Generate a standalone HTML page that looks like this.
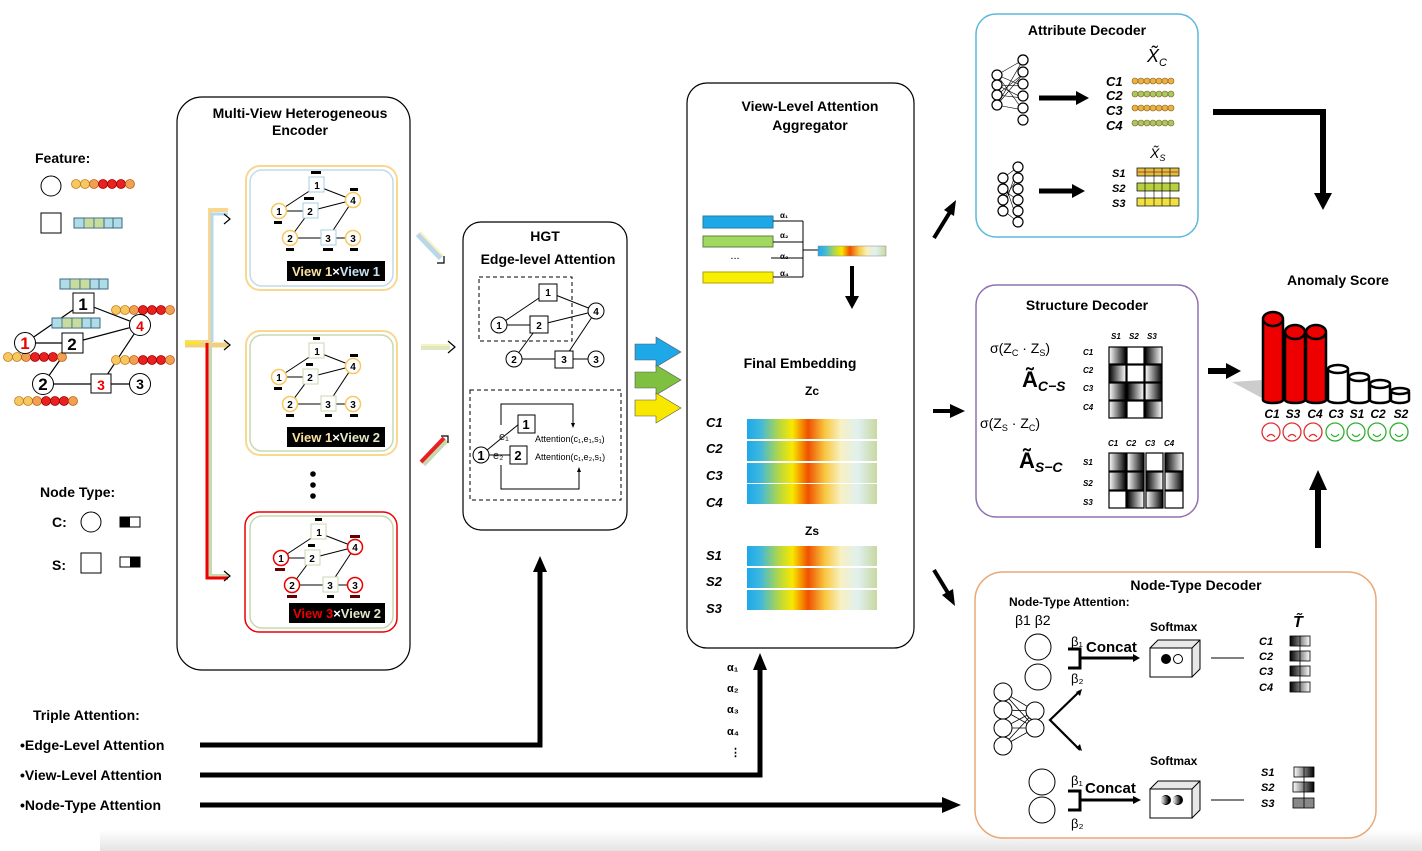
<!DOCTYPE html>
<html><head><meta charset="utf-8"><style>
html,body{margin:0;padding:0;background:#fff}
svg{display:block}
text{font-family:"Liberation Sans",sans-serif}
.b{font-weight:bold}
.t{font-size:14px;font-weight:bold}
.i{font-style:italic;font-weight:bold}
</style></head><body>
<svg width="1422" height="851" viewBox="0 0 1422 851" xmlns="http://www.w3.org/2000/svg">
<defs>
<linearGradient id="emb" x1="0" x2="1" y1="0" y2="0">
<stop offset="0" stop-color="#1ea8e8"/><stop offset="0.1" stop-color="#3cb8e0"/><stop offset="0.25" stop-color="#b8d840"/><stop offset="0.35" stop-color="#f8e800"/><stop offset="0.47" stop-color="#f05000"/><stop offset="0.6" stop-color="#f8c840"/><stop offset="0.72" stop-color="#f8f0c0"/><stop offset="0.85" stop-color="#e0f0f0"/><stop offset="1" stop-color="#c8d8a0"/>
</linearGradient>
<linearGradient id="bw" x1="0" x2="1"><stop offset="0" stop-color="#000"/><stop offset="1" stop-color="#fff"/></linearGradient>
<linearGradient id="wb" x1="0" x2="1"><stop offset="0" stop-color="#fff"/><stop offset="1" stop-color="#000"/></linearGradient>
<linearGradient id="shade" x1="0" x2="0" y1="0" y2="1"><stop offset="0" stop-color="#fff"/><stop offset="1" stop-color="#e4e4e4"/></linearGradient>
<marker id="ah" viewBox="0 0 10 10" refX="9" refY="5" markerWidth="4" markerHeight="4" orient="auto"><path d="M0,0L10,5L0,10z" fill="#000"/></marker>
<marker id="ahs" viewBox="0 0 10 10" refX="9" refY="5" markerWidth="7" markerHeight="7" orient="auto"><path d="M0,0L10,5L0,10z" fill="#000"/></marker>
<g id="dots7">
<circle cx="0" cy="0" r="4.5" fill="#f8c860" stroke="#c08020" stroke-width="0.8"/><circle cx="9" cy="0" r="4.5" fill="#f8c860" stroke="#c08020" stroke-width="0.8"/><circle cx="18" cy="0" r="4.5" fill="#f0a050" stroke="#c06020" stroke-width="0.8"/><circle cx="27" cy="0" r="4.5" fill="#e82020" stroke="#a00000" stroke-width="0.8"/><circle cx="36" cy="0" r="4.5" fill="#e82020" stroke="#a00000" stroke-width="0.8"/><circle cx="45" cy="0" r="4.5" fill="#e82020" stroke="#a00000" stroke-width="0.8"/><circle cx="54" cy="0" r="4.5" fill="#f0a050" stroke="#c06020" stroke-width="0.8"/>
</g>
<g id="bars5">
<rect x="0" y="0" width="48" height="10" fill="#b0dce8" stroke="#3a6a80" stroke-width="1"/><rect x="10" y="0" width="10" height="10" fill="#c8dca0" stroke="#3a6a80" stroke-width="0.8"/><rect x="20" y="0" width="10" height="10" fill="#c8dca0" stroke="#3a6a80" stroke-width="0.8"/><line x1="30" y1="0" x2="30" y2="10" stroke="#3a6a80"/><line x1="39" y1="0" x2="39" y2="10" stroke="#3a6a80"/>
</g>
<g id="mini" font-size="10" font-weight="bold" text-anchor="middle">
<line x1="71" y1="20" x2="33" y2="45" stroke="#000"/><line x1="71" y1="20" x2="107" y2="34" stroke="#000"/>
<line x1="33" y1="45" x2="64" y2="45" stroke="#000"/><line x1="64" y1="45" x2="107" y2="34" stroke="#000"/>
<line x1="64" y1="45" x2="44" y2="72" stroke="#000"/><line x1="44" y1="72" x2="82" y2="72" stroke="#000"/>
<line x1="82" y1="72" x2="107" y2="34" stroke="#000"/><line x1="82" y1="72" x2="107" y2="72" stroke="#000"/>
</g>
</defs>
<rect x="100" y="830" width="1322" height="21" fill="url(#shade)"/>

<!-- Feature legend -->
<text x="35" y="163" class="t">Feature:</text>
<circle cx="51" cy="186" r="10" fill="#fff" stroke="#000"/>
<use href="#dots7" x="76" y="184"/>
<rect x="41" y="213" width="20" height="20" fill="#fff" stroke="#000"/>
<use href="#bars5" x="74" y="218" transform="translate(0,0)"/>
<!-- big graph -->
<g stroke="#000" stroke-width="1.2">
<line x1="83" y1="303" x2="25" y2="343"/><line x1="83" y1="303" x2="140" y2="325"/>
<line x1="25" y1="343" x2="72" y2="343"/><line x1="72" y1="343" x2="140" y2="325"/>
<line x1="72" y1="343" x2="43" y2="384"/><line x1="43" y1="384" x2="101" y2="384"/>
<line x1="101" y1="384" x2="140" y2="325"/><line x1="101" y1="384" x2="140" y2="384"/>
</g>
<use href="#bars5" x="60" y="279"/><use href="#bars5" x="52" y="318"/>
<use href="#dots7" x="116" y="310"/><use href="#dots7" x="8" y="357"/>
<use href="#dots7" x="116" y="360"/><use href="#dots7" x="19" y="401"/>
<g font-size="17" font-weight="bold" text-anchor="middle">
<rect x="73" y="293" width="21" height="20" fill="#fff" stroke="#000"/><text x="83" y="310">1</text>
<rect x="62" y="333" width="21" height="20" fill="#fff" stroke="#000"/><text x="72" y="350">2</text>
<rect x="91" y="374" width="20" height="19" fill="#fff" stroke="#000"/><text x="101" y="390" fill="#e00" font-size="14">3</text>
<circle cx="25" cy="343" r="10.5" fill="#fff" stroke="#000"/><text x="25" y="349" fill="#e00">1</text>
<circle cx="140" cy="325" r="10.5" fill="#fff" stroke="#000"/><text x="140" y="331" fill="#e00" font-size="14">4</text>
<circle cx="43" cy="384" r="10.5" fill="#fff" stroke="#000"/><text x="43" y="390">2</text>
<circle cx="140" cy="384" r="10.5" fill="#fff" stroke="#000"/><text x="140" y="389" font-size="14">3</text>
</g>
<!-- Node type -->
<text x="40" y="497" class="t">Node Type:</text>
<text x="52" y="527" class="t">C:</text>
<circle cx="91" cy="522" r="10" fill="#fff" stroke="#000"/>
<rect x="120" y="517" width="20" height="10" fill="#fff" stroke="#000"/><rect x="120" y="517" width="10" height="10" fill="#000"/>
<text x="52" y="570" class="t">S:</text>
<rect x="81" y="553" width="20" height="20" fill="#fff" stroke="#000"/>
<rect x="120" y="557" width="20" height="10" fill="#fff" stroke="#000"/><rect x="130" y="557" width="10" height="10" fill="#000"/>

<!-- Encoder -->
<rect x="177" y="97" width="233" height="573" rx="25" fill="#fff" stroke="#000" stroke-width="1.2"/>
<text x="300" y="118" class="t" text-anchor="middle">Multi-View Heterogeneous</text>
<text x="300" y="135" class="t" text-anchor="middle">Encoder</text>
<!-- branch lines -->
<path d="M185,342 H210 V210 H228" fill="none" stroke="#f8d890" stroke-width="4"/>
<path d="M212,342 V214 H228" fill="none" stroke="#b8d8e8" stroke-width="3"/>
<path d="M185,345 H228" fill="none" stroke="#f0d080" stroke-width="5"/>
<path d="M185,343 H200" stroke="#f8e820" stroke-width="3"/>
<path d="M210,346 V576 H228" fill="none" stroke="#c8d8b0" stroke-width="4"/>
<path d="M207,343 V578 H228" fill="none" stroke="#e00" stroke-width="3"/>
<g fill="none" stroke="#000" stroke-width="1.2">
<path d="M224,214 L230,219 L224,224"/><path d="M224,340 L230,345 L224,350"/><path d="M224,571 L230,576 L224,581"/>
</g>
<!-- views -->
<rect x="246" y="166" width="151" height="124" rx="14" fill="#fff" stroke="#f8d890" stroke-width="2"/>
<rect x="250" y="170" width="143" height="116" rx="12" fill="none" stroke="#c0dce8" stroke-width="1.5"/>
<rect x="246" y="331" width="151" height="124" rx="14" fill="#fff" stroke="#f8d890" stroke-width="2"/>
<rect x="250" y="335" width="143" height="116" rx="12" fill="none" stroke="#c8d8b0" stroke-width="1.5"/>
<rect x="245" y="512" width="152" height="120" rx="14" fill="#fff" stroke="#e00" stroke-width="1.5"/>
<rect x="250" y="516" width="143" height="112" rx="12" fill="none" stroke="#c8d8b0" stroke-width="1.5"/>
<g transform="translate(246,166)"><use href="#mini"/></g>
<g transform="translate(246,332)"><use href="#mini"/></g>
<g transform="translate(248,513)"><use href="#mini"/></g>
<!-- nodes in views -->
<g font-size="10" font-weight="bold" text-anchor="middle">
<g transform="translate(246,166)">
<rect x="63" y="11" width="15" height="15" fill="#fff" stroke="#a8cce0"/><text x="71" y="23">1</text>
<rect x="57" y="37" width="15" height="15" fill="#fff" stroke="#a8cce0"/><text x="64" y="49">2</text>
<rect x="75" y="64" width="15" height="15" fill="#fff" stroke="#a8cce0"/><text x="82" y="76">3</text>
<circle cx="33" cy="45" r="7.5" fill="#fff" stroke="#f8c860" stroke-width="1.5"/><text x="33" y="49">1</text>
<circle cx="107" cy="34" r="7.5" fill="#fff" stroke="#f8c860" stroke-width="1.5"/><text x="107" y="38">4</text>
<circle cx="44" cy="72" r="7.5" fill="#fff" stroke="#f8c860" stroke-width="1.5"/><text x="44" y="76">2</text>
<circle cx="107" cy="72" r="7.5" fill="#fff" stroke="#f8c860" stroke-width="1.5"/><text x="107" y="76">3</text>
<rect x="65" y="5" width="10" height="3" fill="#000"/><rect x="58" y="31" width="10" height="3" fill="#000"/><rect x="77" y="82" width="10" height="3" fill="#000"/>
<rect x="28" y="55" width="8" height="3" fill="#000"/><rect x="104" y="22" width="8" height="3" fill="#000"/><rect x="40" y="82" width="8" height="3" fill="#000"/><rect x="104" y="82" width="8" height="3" fill="#000"/>
</g>
<g transform="translate(246,332)">
<rect x="63" y="11" width="15" height="15" fill="#fff" stroke="#c8d8b0"/><text x="71" y="23">1</text>
<rect x="57" y="37" width="15" height="15" fill="#fff" stroke="#c8d8b0"/><text x="64" y="49">2</text>
<rect x="75" y="64" width="15" height="15" fill="#fff" stroke="#c8d8b0"/><text x="82" y="76">3</text>
<circle cx="33" cy="45" r="7.5" fill="#fff" stroke="#f8c860" stroke-width="1.5"/><text x="33" y="49">1</text>
<circle cx="107" cy="34" r="7.5" fill="#fff" stroke="#f8c860" stroke-width="1.5"/><text x="107" y="38">4</text>
<circle cx="44" cy="72" r="7.5" fill="#fff" stroke="#f8c860" stroke-width="1.5"/><text x="44" y="76">2</text>
<circle cx="107" cy="72" r="7.5" fill="#fff" stroke="#f8c860" stroke-width="1.5"/><text x="107" y="76">3</text>
<rect x="67" y="5" width="7" height="3" fill="#000"/><rect x="60" y="31" width="7" height="3" fill="#000"/><rect x="79" y="82" width="7" height="3" fill="#000"/>
<rect x="28" y="55" width="8" height="3" fill="#000"/><rect x="104" y="22" width="8" height="3" fill="#000"/><rect x="40" y="82" width="8" height="3" fill="#000"/><rect x="104" y="82" width="8" height="3" fill="#000"/>
</g>
<g transform="translate(248,513)">
<rect x="63" y="11" width="15" height="15" fill="#fff" stroke="#c8d8b0"/><text x="71" y="23">1</text>
<rect x="57" y="37" width="15" height="15" fill="#fff" stroke="#c8d8b0"/><text x="64" y="49">2</text>
<rect x="75" y="64" width="15" height="15" fill="#fff" stroke="#c8d8b0"/><text x="82" y="76">3</text>
<circle cx="33" cy="45" r="7.5" fill="#fff" stroke="#e00" stroke-width="1.5"/><text x="33" y="49">1</text>
<circle cx="107" cy="34" r="7.5" fill="#fff" stroke="#e00" stroke-width="1.5"/><text x="107" y="38">4</text>
<circle cx="44" cy="72" r="7.5" fill="#fff" stroke="#e00" stroke-width="1.5"/><text x="44" y="76">2</text>
<circle cx="107" cy="72" r="7.5" fill="#fff" stroke="#e00" stroke-width="1.5"/><text x="107" y="76">3</text>
<rect x="67" y="5" width="7" height="3" fill="#000"/><rect x="60" y="31" width="7" height="3" fill="#000"/><rect x="79" y="82" width="7" height="3" fill="#000"/>
<rect x="27" y="55" width="10" height="3" fill="#600"/><rect x="102" y="22" width="10" height="3" fill="#600"/><rect x="39" y="82" width="10" height="3" fill="#600"/><rect x="102" y="82" width="10" height="3" fill="#600"/>
</g>
</g>
<rect x="287" y="261" width="98" height="20" fill="#000"/>
<text x="336" y="276" font-size="13" font-weight="bold" text-anchor="middle"><tspan fill="#f8e0a0">View 1</tspan><tspan fill="#fff">×</tspan><tspan fill="#c8e0f0">View 1</tspan></text>
<rect x="287" y="427" width="98" height="20" fill="#000"/>
<text x="336" y="442" font-size="13" font-weight="bold" text-anchor="middle"><tspan fill="#f8e0a0">View 1</tspan><tspan fill="#fff">×</tspan><tspan fill="#e0e8c8">View 2</tspan></text>
<rect x="289" y="603" width="96" height="20" fill="#000"/>
<text x="337" y="618" font-size="13" font-weight="bold" text-anchor="middle"><tspan fill="#e00">View 3</tspan><tspan fill="#fff">×</tspan><tspan fill="#e0e8c8">View 2</tspan></text>
<circle cx="313" cy="474" r="2.8"/><circle cx="313" cy="485" r="2.8"/><circle cx="313" cy="496" r="2.8"/>

<!-- encoder->HGT small arrows -->
<line x1="418" y1="234" x2="441" y2="258" stroke="#b8d8e8" stroke-width="6"/><line x1="420" y1="232" x2="443" y2="256" stroke="#f8f0c0" stroke-width="2"/>
<path d="M444,256 V263 H437" fill="none" stroke="#000" stroke-width="1.2"/>
<line x1="421" y1="347" x2="450" y2="347" stroke="#e0e8c0" stroke-width="6"/><line x1="421" y1="345" x2="450" y2="345" stroke="#f8f0c0" stroke-width="2"/>
<path d="M448,341 L455,347 L448,353" fill="none" stroke="#000" stroke-width="1.2"/>
<line x1="423" y1="464" x2="446" y2="440" stroke="#c8d8b0" stroke-width="6"/><line x1="421" y1="462" x2="444" y2="438" stroke="#e82020" stroke-width="4"/>
<path d="M441,436 H448 V443" fill="none" stroke="#000" stroke-width="1.2"/>

<!-- HGT -->
<rect x="463" y="222" width="164" height="308" rx="18" fill="#fff" stroke="#000" stroke-width="1.2"/>
<text x="545" y="241" class="t" text-anchor="middle">HGT</text>
<text x="548" y="264" class="t" text-anchor="middle">Edge-level Attention</text>
<rect x="479" y="277" width="93" height="64" fill="none" stroke="#000" stroke-dasharray="4,3"/>
<g stroke="#000">
<line x1="548" y1="292" x2="499" y2="325"/><line x1="548" y1="292" x2="596" y2="311"/>
<line x1="499" y1="325" x2="539" y2="325"/><line x1="539" y1="325" x2="596" y2="311"/>
<line x1="539" y1="325" x2="514" y2="359"/><line x1="514" y1="359" x2="564" y2="359"/>
<line x1="564" y1="359" x2="596" y2="311"/><line x1="564" y1="359" x2="596" y2="359"/>
</g>
<g font-size="10" font-weight="bold" text-anchor="middle">
<rect x="539" y="284" width="18" height="17" fill="#fff" stroke="#000"/><text x="548" y="296">1</text>
<rect x="530" y="316" width="18" height="17" fill="#fff" stroke="#000"/><text x="539" y="329">2</text>
<rect x="555" y="351" width="18" height="17" fill="#fff" stroke="#000"/><text x="564" y="363">3</text>
<circle cx="499" cy="325" r="8" fill="#fff" stroke="#000"/><text x="499" y="329">1</text>
<circle cx="596" cy="311" r="8" fill="#fff" stroke="#000"/><text x="596" y="315">4</text>
<circle cx="514" cy="359" r="8" fill="#fff" stroke="#000"/><text x="514" y="363">2</text>
<circle cx="596" cy="359" r="8" fill="#fff" stroke="#000"/><text x="596" y="363">3</text>
</g>
<rect x="470" y="390" width="151" height="110" fill="none" stroke="#000" stroke-dasharray="4,3"/>
<g stroke="#000" fill="none">
<path d="M501,425 V404 H573 V425"/><path d="M501,465 V489 H579 V470"/>
<line x1="481" y1="455" x2="519" y2="424"/><line x1="489" y1="455" x2="510" y2="455"/>
</g>
<path d="M571,423 L573,428 L575,423z M577,472 L579,467 L581,472z"/>
<text x="499" y="440" font-size="11" fill="#222">e₁</text>
<text x="493" y="459" font-size="11" fill="#222">e₂</text>
<rect x="518" y="415" width="17" height="18" fill="#fff" stroke="#000"/><text x="526" y="429" font-size="13" font-weight="bold" text-anchor="middle">1</text>
<rect x="510" y="446" width="17" height="18" fill="#fff" stroke="#000"/><text x="518" y="460" font-size="13" font-weight="bold" text-anchor="middle">2</text>
<circle cx="481" cy="455" r="8" fill="#fff" stroke="#000"/><text x="481" y="460" font-size="13" font-weight="bold" text-anchor="middle">1</text>
<text x="535" y="442" font-size="9">Attention(c₁,e₁,s₁)</text>
<text x="535" y="460" font-size="9">Attention(c₁,e₂,s₁)</text>

<!-- colored arrows -->
<path d="M635,344 H656 V337 L681,352 L656,367 V360 H635z" fill="#1ea8e8" stroke="#555" stroke-width="0.6"/>
<path d="M635,372 H656 V365 L681,380 L656,395 V388 H635z" fill="#80c040" stroke="#555" stroke-width="0.6"/>
<path d="M635,400 H656 V393 L681,408 L656,423 V416 H635z" fill="#f8e800" stroke="#555" stroke-width="0.6"/>

<!-- View-level -->
<rect x="687" y="83" width="227" height="565" rx="20" fill="#fff" stroke="#000" stroke-width="1.2"/>
<text x="810" y="111" class="t" text-anchor="middle">View-Level Attention</text>
<text x="810" y="130" class="t" text-anchor="middle">Aggregator</text>
<rect x="703" y="216" width="70" height="12" fill="#1ea8e8" stroke="#2080a0"/>
<rect x="703" y="236" width="70" height="11" fill="#a0d860" stroke="#608040"/>
<text x="735" y="259" font-size="11" text-anchor="middle">...</text>
<rect x="703" y="272" width="70" height="11" fill="#f8f000" stroke="#b0a000"/>
<g stroke="#000"><line x1="773" y1="221" x2="803" y2="221"/><line x1="773" y1="242" x2="803" y2="242"/><line x1="771" y1="258" x2="803" y2="258"/><line x1="773" y1="277" x2="803" y2="277"/><line x1="803" y1="221" x2="803" y2="277"/><line x1="803" y1="250" x2="818" y2="250"/></g>
<g font-size="8" font-weight="bold"><text x="780" y="218">α₁</text><text x="780" y="238">α₂</text><text x="780" y="259">α₃</text><text x="780" y="276">α₄</text></g>
<rect x="818" y="246" width="68" height="10" fill="url(#emb)" stroke="#888" stroke-width="0.5"/>
<line x1="852" y1="266" x2="852" y2="300" stroke="#000" stroke-width="4"/><path d="M845,296 L852,309 L859,296z"/>
<text x="800" y="368" class="t" text-anchor="middle">Final Embedding</text>
<text x="812" y="395" font-size="12" font-weight="bold" text-anchor="middle">Zc</text>
<g class="i" font-size="13">
<text x="706" y="427" font-style="italic" font-weight="bold">C1</text><text x="706" y="453" font-style="italic" font-weight="bold">C2</text><text x="706" y="480" font-style="italic" font-weight="bold">C3</text><text x="706" y="507" font-style="italic" font-weight="bold">C4</text>
</g>
<rect x="747" y="419" width="130" height="20" fill="url(#emb)"/><rect x="747" y="441" width="130" height="20" fill="url(#emb)"/>
<rect x="747" y="463" width="130" height="20" fill="url(#emb)"/><rect x="747" y="484" width="130" height="20" fill="url(#emb)"/>
<text x="812" y="535" font-size="12" font-weight="bold" text-anchor="middle">Zs</text>
<text x="706" y="560" font-size="13" font-style="italic" font-weight="bold">S1</text><text x="706" y="586" font-size="13" font-style="italic" font-weight="bold">S2</text><text x="706" y="613" font-size="13" font-style="italic" font-weight="bold">S3</text>
<rect x="747" y="546" width="130" height="20" fill="url(#emb)"/><rect x="747" y="568" width="130" height="20" fill="url(#emb)"/><rect x="747" y="590" width="130" height="20" fill="url(#emb)"/>
<g font-size="11" font-weight="bold"><text x="727" y="671">α₁</text><text x="727" y="692">α₂</text><text x="727" y="713">α₃</text><text x="727" y="735">α₄</text><text x="730" y="756">⋮</text></g>

<!-- triple attention -->
<text x="33" y="720" font-size="14" font-weight="bold">Triple Attention:</text>
<text x="20" y="750" font-size="14" font-weight="bold">•Edge-Level Attention</text>
<text x="20" y="780" font-size="14" font-weight="bold">•View-Level Attention</text>
<text x="20" y="810" font-size="14" font-weight="bold">•Node-Type Attention</text>
<path d="M200,745 H540 V570" fill="none" stroke="#000" stroke-width="5"/><path d="M533,572 L540,556 L547,572z"/>
<path d="M200,775 H760 V668" fill="none" stroke="#000" stroke-width="5"/><path d="M753,670 L760,653 L767,670z"/>
<path d="M200,805 H945" fill="none" stroke="#000" stroke-width="5"/><path d="M942,797 L961,805 L942,813z"/>

<!-- arrows to decoders -->
<line x1="934" y1="238" x2="950" y2="212" stroke="#000" stroke-width="4"/><path d="M944,210 L956,200 L954,216z"/>
<line x1="933" y1="411" x2="952" y2="411" stroke="#000" stroke-width="4"/><path d="M950,404 L965,411 L950,418z"/>
<line x1="934" y1="570" x2="948" y2="593" stroke="#000" stroke-width="4"/><path d="M942,595 L955,606 L953,589z"/>

<!-- Attribute decoder -->
<rect x="976" y="14" width="222" height="223" rx="20" fill="#fff" stroke="#5cb8dc" stroke-width="1.5"/>
<text x="1087" y="35" class="t" text-anchor="middle">Attribute Decoder</text>
<g stroke="#000" stroke-width="0.6">
<line x1="997" y1="75" x2="1023" y2="60"/><line x1="997" y1="75" x2="1023" y2="110"/><line x1="997" y1="105" x2="1023" y2="60"/><line x1="997" y1="105" x2="1023" y2="110"/><line x1="997" y1="85" x2="1023" y2="86"/><line x1="997" y1="95" x2="1023" y2="74"/><line x1="997" y1="85" x2="1023" y2="98"/><line x1="997" y1="95" x2="1023" y2="98"/><line x1="997" y1="75" x2="1023" y2="86"/><line x1="997" y1="105" x2="1023" y2="74"/>
<line x1="1003" y1="178" x2="1018" y2="167"/><line x1="1003" y1="178" x2="1018" y2="222"/><line x1="1003" y1="210" x2="1018" y2="167"/><line x1="1003" y1="210" x2="1018" y2="222"/><line x1="1003" y1="190" x2="1018" y2="200"/><line x1="1003" y1="200" x2="1018" y2="178"/>
</g>
<g fill="#fff" stroke="#000" stroke-width="1.2">
<circle cx="997" cy="75" r="5"/><circle cx="997" cy="85" r="5"/><circle cx="997" cy="95" r="5"/><circle cx="997" cy="105" r="5"/>
<circle cx="1023" cy="60" r="5"/><circle cx="1023" cy="72" r="5"/><circle cx="1023" cy="84" r="5"/><circle cx="1023" cy="96" r="5"/><circle cx="1023" cy="108" r="5"/><circle cx="1023" cy="120" r="5"/><circle cx="1023" cy="60" r="5"/>
<circle cx="1003" cy="178" r="5"/><circle cx="1003" cy="189" r="5"/><circle cx="1003" cy="200" r="5"/><circle cx="1003" cy="211" r="5"/>
<circle cx="1018" cy="167" r="5"/><circle cx="1018" cy="178" r="5"/><circle cx="1018" cy="189" r="5"/><circle cx="1018" cy="200" r="5"/><circle cx="1018" cy="211" r="5"/><circle cx="1018" cy="222" r="5"/>
</g>
<line x1="1039" y1="98" x2="1078" y2="98" stroke="#000" stroke-width="5"/><path d="M1076,91 L1089,98 L1076,105z"/>
<line x1="1039" y1="191" x2="1074" y2="191" stroke="#000" stroke-width="5"/><path d="M1072,184 L1085,191 L1072,198z"/>
<text x="1147" y="62" font-family="Liberation Serif" font-style="italic" font-size="18">X̃<tspan font-size="11" dy="4">C</tspan></text>
<text x="1150" y="158" font-family="Liberation Serif" font-style="italic" font-size="14">X̃<tspan font-size="9" dy="3">S</tspan></text>
<g font-size="13" font-style="italic" font-weight="bold"><text x="1106" y="86">C1</text><text x="1106" y="100">C2</text><text x="1106" y="115">C3</text><text x="1106" y="130">C4</text></g>
<g stroke="#806020" stroke-width="0.6">
<g fill="#f0b040"><circle cx="1135" cy="81" r="3"/><circle cx="1141" cy="81" r="3"/><circle cx="1147" cy="81" r="3"/><circle cx="1153" cy="81" r="3"/><circle cx="1159" cy="81" r="3"/><circle cx="1165" cy="81" r="3"/><circle cx="1171" cy="81" r="3"/>
<circle cx="1135" cy="108" r="3"/><circle cx="1141" cy="108" r="3"/><circle cx="1147" cy="108" r="3"/><circle cx="1153" cy="108" r="3"/><circle cx="1159" cy="108" r="3"/><circle cx="1165" cy="108" r="3"/><circle cx="1171" cy="108" r="3"/></g>
<g fill="#a8c860"><circle cx="1135" cy="94" r="3"/><circle cx="1141" cy="94" r="3"/><circle cx="1147" cy="94" r="3"/><circle cx="1153" cy="94" r="3"/><circle cx="1159" cy="94" r="3"/><circle cx="1165" cy="94" r="3"/><circle cx="1171" cy="94" r="3"/>
<circle cx="1135" cy="123" r="3"/><circle cx="1141" cy="123" r="3"/><circle cx="1147" cy="123" r="3"/><circle cx="1153" cy="123" r="3"/><circle cx="1159" cy="123" r="3"/><circle cx="1165" cy="123" r="3"/><circle cx="1171" cy="123" r="3"/></g>
</g>
<g font-size="11" font-style="italic" font-weight="bold"><text x="1112" y="177">S1</text><text x="1112" y="192">S2</text><text x="1112" y="207">S3</text></g>
<rect x="1137" y="168" width="42" height="8" fill="#d8c040" stroke="#000" stroke-width="0.7"/><line x1="1137" y1="172" x2="1179" y2="172" stroke="#d04020"/>
<rect x="1137" y="183" width="42" height="8" fill="#b8d040" stroke="#000" stroke-width="0.7"/>
<rect x="1137" y="198" width="42" height="8" fill="#f0e040" stroke="#000" stroke-width="0.7"/>
<g stroke="#000" stroke-width="0.6"><line x1="1145" y1="168" x2="1145" y2="206"/><line x1="1154" y1="168" x2="1154" y2="206"/><line x1="1162" y1="168" x2="1162" y2="206"/><line x1="1170" y1="168" x2="1170" y2="206"/></g>
<path d="M1213,112 H1323 V195" fill="none" stroke="#000" stroke-width="6"/><path d="M1314,193 L1323,210 L1332,193z"/>

<!-- Structure decoder -->
<rect x="976" y="285" width="222" height="232" rx="20" fill="#fff" stroke="#9070b0" stroke-width="1.5"/>
<text x="1087" y="310" class="t" text-anchor="middle">Structure Decoder</text>
<text x="990" y="353" font-family="Liberation Serif" font-size="14">σ(Z<tspan font-size="9" dy="3">C</tspan><tspan dy="-3"> · Z</tspan><tspan font-size="9" dy="3">S</tspan><tspan dy="-3">)</tspan></text>
<text x="1022" y="387" font-family="Liberation Serif" font-size="22" font-weight="bold">Ã<tspan font-size="14" font-style="italic" dy="4">C−S</tspan></text>
<text x="980" y="428" font-family="Liberation Serif" font-size="14">σ(Z<tspan font-size="9" dy="3">S</tspan><tspan dy="-3"> · Z</tspan><tspan font-size="9" dy="3">C</tspan><tspan dy="-3">)</tspan></text>
<text x="1019" y="468" font-family="Liberation Serif" font-size="22" font-weight="bold">Ã<tspan font-size="14" font-style="italic" dy="4">S−C</tspan></text>
<g font-size="8" font-style="italic" font-weight="bold">
<text x="1111" y="339">S1</text><text x="1129" y="339">S2</text><text x="1147" y="339">S3</text>
<text x="1083" y="355">C1</text><text x="1083" y="373">C2</text><text x="1083" y="391">C3</text><text x="1083" y="410">C4</text>
<text x="1108" y="446">C1</text><text x="1126" y="446">C2</text><text x="1145" y="446">C3</text><text x="1164" y="446">C4</text>
<text x="1083" y="465">S1</text><text x="1083" y="486">S2</text><text x="1083" y="505">S3</text>
</g>
<g stroke="#000" stroke-width="1.2">
<rect x="1109" y="347" width="17" height="17" fill="url(#wb)"/><rect x="1127" y="347" width="17" height="17" fill="#fff"/><rect x="1145" y="347" width="17" height="17" fill="url(#bw)"/>
<rect x="1109" y="365" width="17" height="17" fill="url(#bw)"/><rect x="1127" y="365" width="17" height="17" fill="#fff"/><rect x="1145" y="365" width="17" height="17" fill="url(#wb)"/>
<rect x="1109" y="383" width="17" height="17" fill="url(#wb)"/><rect x="1127" y="383" width="17" height="17" fill="url(#bw)"/><rect x="1145" y="383" width="17" height="17" fill="url(#wb)"/>
<rect x="1109" y="401" width="17" height="17" fill="url(#wb)"/><rect x="1127" y="401" width="17" height="17" fill="#fff"/><rect x="1145" y="401" width="17" height="17" fill="url(#bw)"/>
<rect x="1109" y="453" width="17" height="18" fill="url(#wb)"/><rect x="1127" y="453" width="17" height="18" fill="url(#wb)"/><rect x="1146" y="453" width="17" height="18" fill="#fff"/><rect x="1165" y="453" width="18" height="18" fill="url(#bw)"/>
<rect x="1109" y="472" width="17" height="18" fill="url(#wb)"/><rect x="1127" y="472" width="17" height="18" fill="url(#wb)"/><rect x="1146" y="472" width="17" height="18" fill="url(#bw)"/><rect x="1165" y="472" width="18" height="18" fill="url(#wb)"/>
<rect x="1109" y="491" width="17" height="17" fill="#fff"/><rect x="1127" y="491" width="17" height="17" fill="url(#bw)"/><rect x="1146" y="491" width="17" height="17" fill="url(#wb)"/><rect x="1165" y="491" width="18" height="17" fill="#fff"/>
</g>
<line x1="1208" y1="371" x2="1228" y2="371" stroke="#000" stroke-width="6"/><path d="M1226,363 L1241,371 L1226,379z"/>

<!-- Anomaly -->
<text x="1338" y="285" class="t" text-anchor="middle">Anomaly Score</text>
<path d="M1232,382 L1262,380 L1262,398 Z" fill="#ccc"/>
<g stroke="#000" stroke-width="2.5">
<path d="M1263,320 V400 A10,3 0 0 0 1283,400 V320" fill="#e00"/><ellipse cx="1273" cy="319" rx="10" ry="7" fill="#e00"/>
<path d="M1285,333 V400 A10,3 0 0 0 1305,400 V333" fill="#e00"/><ellipse cx="1295" cy="332" rx="10" ry="7" fill="#e00"/>
<path d="M1306,333 V400 A10,3 0 0 0 1326,400 V333" fill="#e00"/><ellipse cx="1316" cy="332" rx="10" ry="7" fill="#e00"/>
<path d="M1328,370 V400 A10,3 0 0 0 1348,400 V370" fill="#fff"/><ellipse cx="1338" cy="369" rx="10" ry="4" fill="#fff"/>
<path d="M1349,378 V400 A10,3 0 0 0 1369,400 V378" fill="#fff"/><ellipse cx="1359" cy="377" rx="10" ry="4" fill="#fff"/>
<path d="M1370,385 V400 A10,3 0 0 0 1390,400 V385" fill="#fff"/><ellipse cx="1380" cy="384" rx="10" ry="4" fill="#fff"/>
<path d="M1391,392 V400 A9,3 0 0 0 1409,400 V392" fill="#fff"/><ellipse cx="1400" cy="391" rx="9" ry="3" fill="#fff"/>
</g>
<g font-size="12" font-style="italic" font-weight="bold" text-anchor="middle">
<text x="1272" y="418">C1</text><text x="1293" y="418">S3</text><text x="1315" y="418">C4</text><text x="1336" y="418">C3</text><text x="1357" y="418">S1</text><text x="1378" y="418">C2</text><text x="1401" y="418">S2</text>
</g>
<g fill="none" stroke-width="1.3">
<g stroke="#e03030"><circle cx="1271" cy="432" r="9"/><circle cx="1292" cy="432" r="9"/><circle cx="1313" cy="432" r="9"/>
<path d="M1267,437 Q1271,432 1275,437 M1288,437 Q1292,432 1296,437 M1309,437 Q1313,432 1317,437"/></g>
<g stroke="#30b030"><circle cx="1335" cy="432" r="9"/><circle cx="1356" cy="432" r="9"/><circle cx="1377" cy="432" r="9"/><circle cx="1399" cy="432" r="9"/>
<path d="M1331,434 Q1335,439 1339,434 M1352,434 Q1356,439 1360,434 M1373,434 Q1377,439 1381,434 M1395,434 Q1399,439 1403,434"/></g>
</g>
<line x1="1318" y1="548" x2="1318" y2="488" stroke="#000" stroke-width="6"/><path d="M1309,490 L1318,470 L1327,490z"/>

<!-- Node-type decoder -->
<rect x="975" y="572" width="401" height="266" rx="28" fill="#fff" stroke="#e8a878" stroke-width="1.5"/>
<text x="1196" y="590" class="t" text-anchor="middle">Node-Type Decoder</text>
<text x="1009" y="606" font-size="12" font-weight="bold">Node-Type Attention:</text>
<text x="1015" y="625" font-size="14">β1 β2</text>
<g fill="#fff" stroke="#000" stroke-width="1">
<circle cx="1038" cy="647" r="13"/><circle cx="1038" cy="677" r="13"/>
<circle cx="1042" cy="782" r="13"/><circle cx="1042" cy="810" r="13"/>
</g>
<g stroke="#000" stroke-width="0.8">
<line x1="1003" y1="692" x2="1035" y2="711"/><line x1="1003" y1="710" x2="1035" y2="728"/><line x1="1003" y1="728" x2="1035" y2="711"/><line x1="1003" y1="746" x2="1035" y2="728"/><line x1="1003" y1="692" x2="1035" y2="728"/><line x1="1003" y1="710" x2="1035" y2="711"/><line x1="1003" y1="728" x2="1035" y2="728"/><line x1="1003" y1="746" x2="1035" y2="711"/>
</g>
<g fill="#fff" stroke="#000" stroke-width="1">
<circle cx="1003" cy="692" r="9"/><circle cx="1003" cy="710" r="9"/><circle cx="1003" cy="728" r="9"/><circle cx="1003" cy="746" r="9"/>
<circle cx="1035" cy="711" r="9"/><circle cx="1035" cy="728" r="9"/>
</g>
<path d="M1080,691 L1050,720 L1080,750" fill="none" stroke="#000" stroke-width="2.2"/>
<path d="M1076,692 L1082,689 L1080,696z M1076,748 L1082,751 L1080,744z"/>
<path d="M1068,649 H1080 V668 H1068 M1080,658 H1135" fill="none" stroke="#000" stroke-width="3"/><path d="M1133,654 L1140,658 L1133,662z"/>
<path d="M1068,791 H1080 V810 H1068 M1080,800 H1135" fill="none" stroke="#000" stroke-width="3"/><path d="M1133,796 L1141,800 L1133,804z"/>
<text x="1071" y="646" font-size="13">β₁</text><text x="1071" y="683" font-size="13">β₂</text>
<text x="1071" y="785" font-size="13">β₁</text><text x="1071" y="828" font-size="13">β₂</text>
<text x="1086" y="652" font-size="15" font-weight="bold">Concat</text>
<text x="1085" y="793" font-size="15" font-weight="bold">Concat</text>
<text x="1150" y="631" font-size="12" font-weight="bold">Softmax</text>
<text x="1150" y="765" font-size="12" font-weight="bold">Softmax</text>
<g stroke="#000" stroke-width="1">
<path d="M1150,648 L1158,640 H1200 V669 L1192,677 Z" fill="#e8e8e8"/><rect x="1150" y="648" width="42" height="29" fill="#fff"/><line x1="1192" y1="648" x2="1200" y2="640"/>
<path d="M1150,789 L1158,781 H1200 V810 L1192,818 Z" fill="#e8e8e8"/><rect x="1150" y="789" width="42" height="29" fill="#fff"/><line x1="1192" y1="789" x2="1200" y2="781"/>
<circle cx="1166" cy="659" r="4.5" fill="#000"/><circle cx="1178" cy="659" r="4.5" fill="#fff"/>
<circle cx="1166" cy="800" r="4.5" fill="#000"/><circle cx="1178" cy="800" r="4.5" fill="#000"/>
<line x1="1211" y1="658" x2="1244" y2="658"/><line x1="1211" y1="800" x2="1244" y2="800"/>
</g>
<circle cx="1165" cy="800" r="4" fill="url(#wb)"/><circle cx="1177" cy="800" r="4" fill="url(#wb)"/>
<text x="1293" y="627" font-family="Liberation Serif" font-size="16" font-weight="bold" font-style="italic">T̃</text>
<g font-size="11" font-style="italic" font-weight="bold">
<text x="1259" y="645">C1</text><text x="1259" y="660">C2</text><text x="1259" y="675">C3</text><text x="1259" y="691">C4</text>
<text x="1261" y="776">S1</text><text x="1261" y="791">S2</text><text x="1261" y="807">S3</text>
</g>
<g stroke="#000" stroke-width="0.8">
<rect x="1290" y="636" width="20" height="10" fill="url(#bw)"/><rect x="1290" y="651" width="20" height="10" fill="url(#bw)"/><rect x="1290" y="666" width="20" height="10" fill="url(#bw)"/><rect x="1290" y="682" width="20" height="10" fill="url(#bw)"/>
<rect x="1294" y="767" width="20" height="10" fill="url(#wb)"/><rect x="1293" y="782" width="21" height="10" fill="url(#wb)"/><rect x="1293" y="798" width="21" height="10" fill="#888"/>
<line x1="1300" y1="636" x2="1300" y2="692"/><line x1="1304" y1="767" x2="1304" y2="808"/>
</g>
</svg>
</body></html>
